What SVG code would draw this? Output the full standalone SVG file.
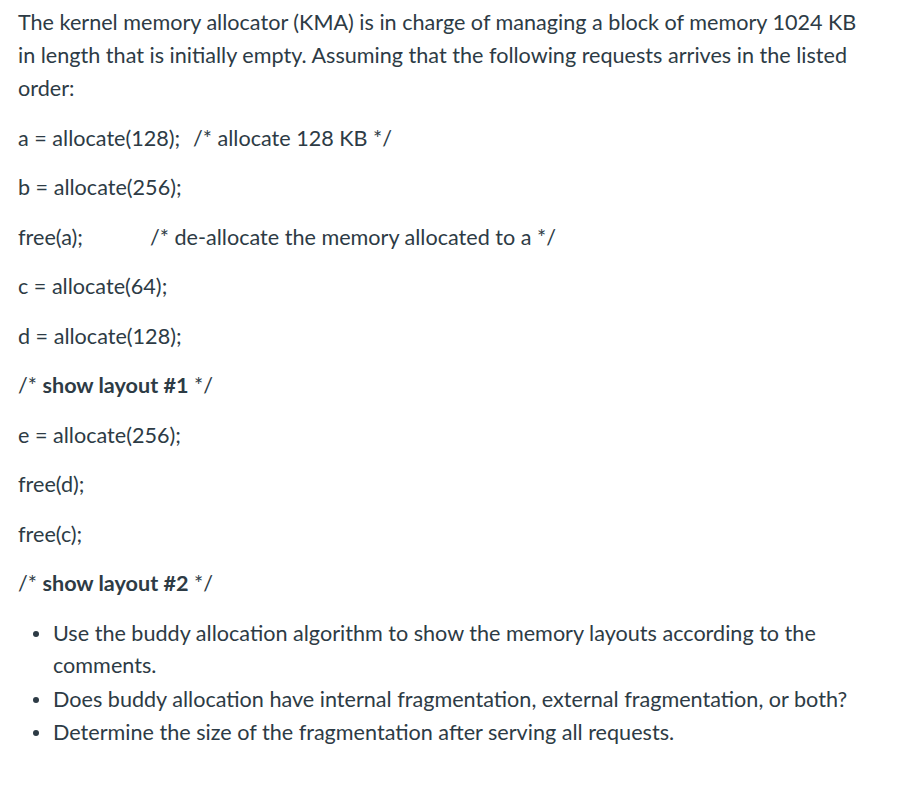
<svg xmlns="http://www.w3.org/2000/svg" width="908" height="787" viewBox="0 0 908 787">
<style>
text{font-family:Lato,"Open Sans","Liberation Sans",sans-serif;font-size:21.6px;fill:#2d3b45}
.b{font-weight:bold}
</style>
<rect width="908" height="787" fill="#fff"/>
<g id="intro">
<text x="18" y="30">The kernel memory allocator (KMA) is in charge of managing a block of memory 1024 KB</text>
<text x="18" y="63">in length that is initially empty. Assuming that the following requests arrives in the listed</text>
<text x="18" y="96">order:</text>
</g>
<g id="code">
<text x="18" y="146">a = allocate(128);</text>
<text x="193" y="146">/* allocate 128 KB */</text>
<text x="18" y="195">b = allocate(256);</text>
<text x="18" y="245">free(a);</text>
<text x="150" y="245">/* de-allocate the memory allocated to a */</text>
<text x="18" y="294">c = allocate(64);</text>
<text x="18" y="344">d = allocate(128);</text>
<text x="18" y="393">/* <tspan class="b">show layout #1</tspan> */</text>
<text x="18" y="443">e = allocate(256);</text>
<text x="18" y="492">free(d);</text>
<text x="18" y="542">free(c);</text>
<text x="18" y="591">/* <tspan class="b">show layout #2</tspan> */</text>
</g>
<g id="bullets">
<circle cx="36" cy="634" r="3" fill="#2d3b45"/>
<text x="53" y="641">Use the buddy allocation algorithm to show the memory layouts according to the</text>
<text x="53" y="673">comments.</text>
<circle cx="36" cy="700" r="3" fill="#2d3b45"/>
<text x="53" y="707">Does buddy allocation have internal fragmentation, external fragmentation, or both?</text>
<circle cx="36" cy="733" r="3" fill="#2d3b45"/>
<text x="53" y="740">Determine the size of the fragmentation after serving all requests.</text>
</g>
</svg>
